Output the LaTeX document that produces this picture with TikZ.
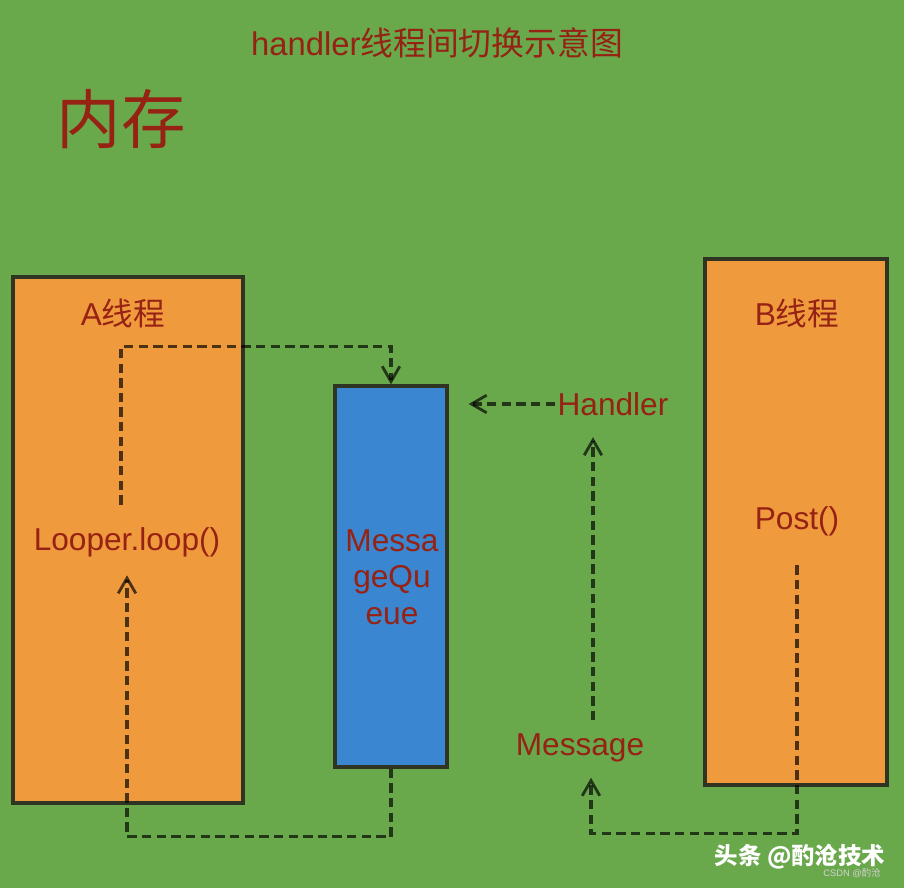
\documentclass[tikz,border=0pt]{standalone}
\usepackage{fontspec}
\setmainfont{Liberation Sans}
\newfontfamily\cjk{Noto Sans CJK SC}
\usetikzlibrary{arrows.meta}
\definecolor{bggreen}{RGB}{106,168,76}
\definecolor{thorange}{RGB}{240,154,62}
\definecolor{mqblue}{RGB}{58,134,208}
\definecolor{txtred}{RGB}{150,34,20}
\definecolor{edge}{RGB}{48,52,34}

\begin{document}
\begin{tikzpicture}[x=0.03cm,y=0.03cm,
    box/.style={draw=edge,line width=2.8pt,inner sep=0pt},
    lbl/.style={text=txtred,font=\fontsize{27}{31}\selectfont,inner sep=2pt},
    flow/.style={draw=black,draw opacity=0.68,line width=2.8pt,dash pattern=on 8pt off 4.5pt,
      -{Straight Barb[length=13pt,width=15pt,line width=2.4pt]}}]
  \fill[bggreen] (0,0) rectangle (904,888);
  \useasboundingbox (0,0) rectangle (904,888);
  % threads and queue
  \node[box,fill=thorange,minimum width=6.9cm,minimum height=15.78cm] (threadA) at (128,348) {};
  \node[box,fill=thorange,minimum width=5.46cm,minimum height=15.78cm] (threadB) at (796,366) {};
  \node[box,fill=mqblue,minimum width=3.36cm,minimum height=11.43cm] (mq) at (391,311.5) {};
  % texts
  \node[lbl,font=\fontsize{28}{32}\selectfont] (title) at (437,845) {handler{\cjk 线程间切换示意图}};
  \node[lbl,font=\cjk\fontsize{55}{60}\selectfont] (mem) at (121,769) {内存};
  \node[lbl] (nameA) at (123,575) {A{\cjk 线程}};
  \node[lbl] (loop) at (127,346) {Looper.loop()};
  \node[lbl] (nameB) at (797,575) {B{\cjk 线程}};
  \node[lbl] (post) at (797,367) {Post()};
  \node[lbl,align=center] (mqtxt) at (392,311) {Messa\\geQu\\eue};
  \node[lbl] (handler) at (613,484) {Handler};
  \node[lbl] (msg) at (580,140) {Message};
  % dashed flows
  \draw[flow] ([shift={(-6,20)}]loop.north) -- ++(0,158) -| (mq.north);
  \draw[flow] (mq.south) -- ++(0,-68) -| ([shift={(0,-16)}]loop.south);
  \draw[flow] ([shift={(0,-27)}]post.south) -- ++(0,-268) -| ([shift={(11,-13)}]msg.south);
  \draw[flow] ([shift={(13,11)}]msg.north) -- ([shift={(-20,-19)}]handler.south);
  \draw[flow,shorten >=0.6cm] (handler.west) -- (mq.east |- handler.west);
  % watermark
  \node[text=white,font=\cjk\bfseries\fontsize{20}{23}\selectfont,inner sep=0pt] (mark) at (800,31) {头条 @酌沧技术};
  \node[text=gray!35,font=\fontsize{8}{9}\selectfont,inner sep=0pt] (csdn) at (852,15) {CSDN @{\cjk 酌沧}};
\end{tikzpicture}
\end{document}
